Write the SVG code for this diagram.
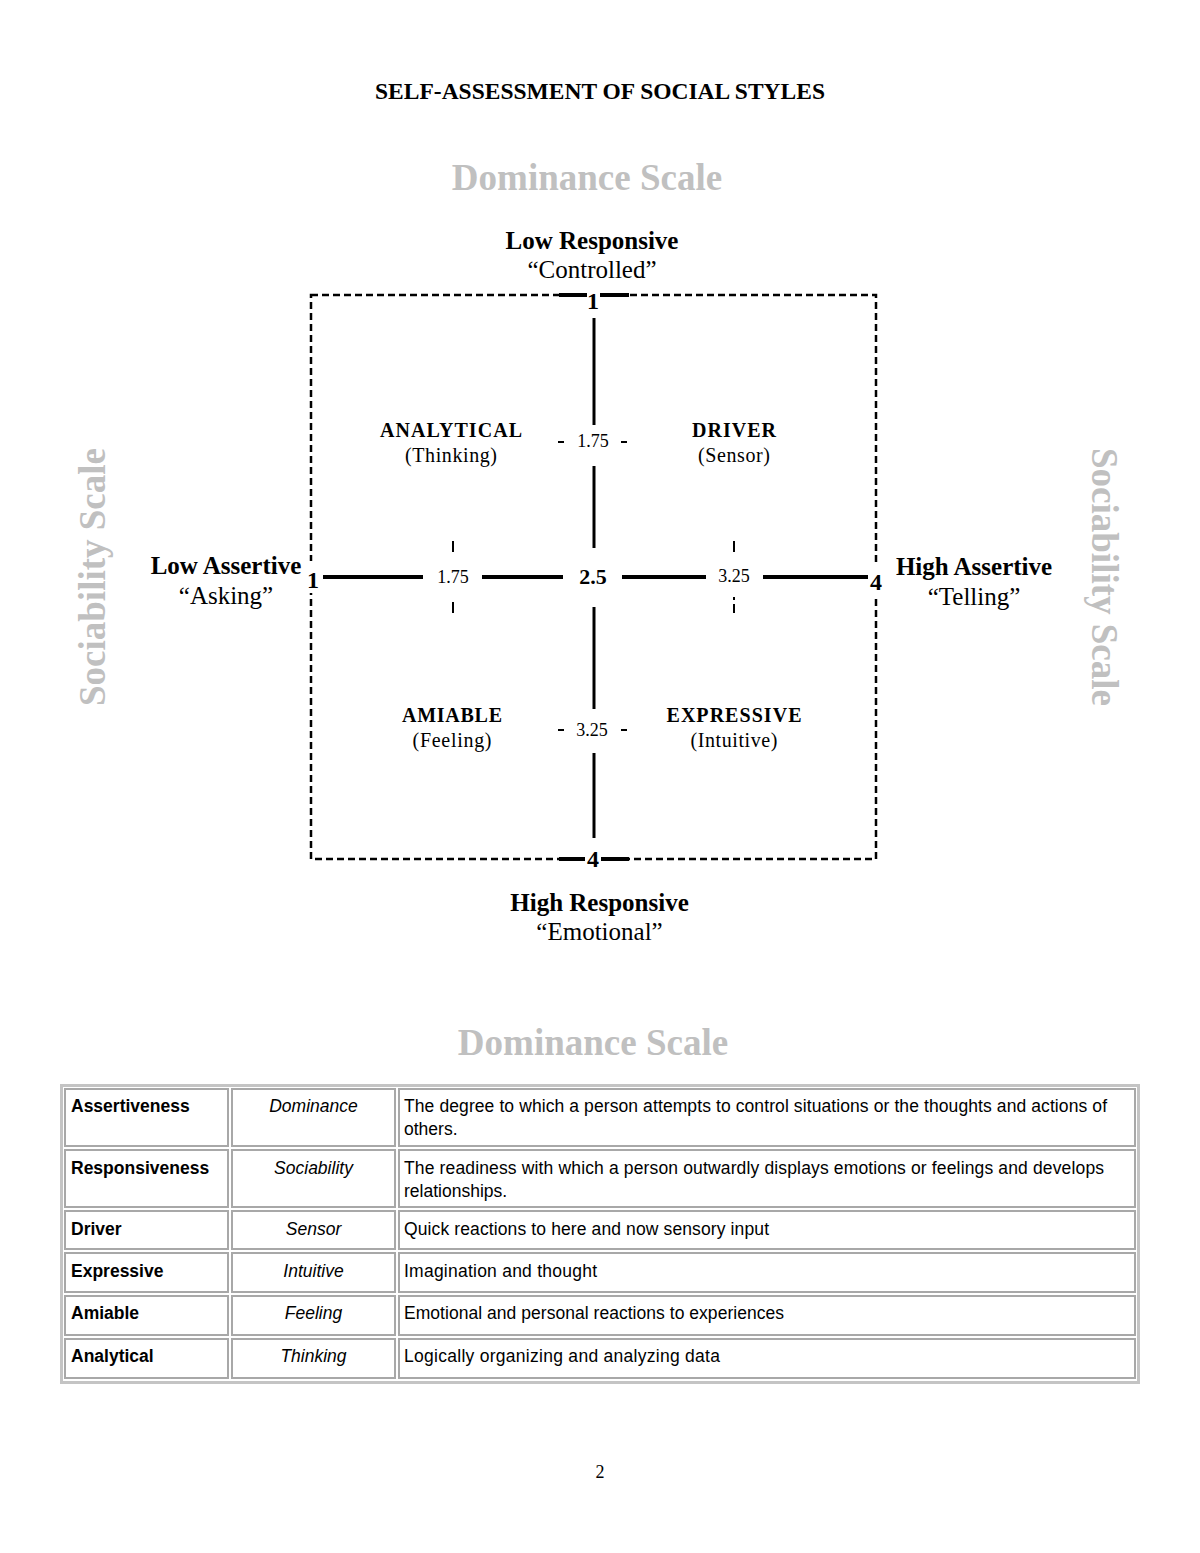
<svg xmlns="http://www.w3.org/2000/svg" width="1200" height="1553" viewBox="0 0 1200 1553">
<style>
.serif{font-family:"Liberation Serif","Times New Roman",serif;fill:#000}
.b{font-weight:bold}
.scale{font-family:"Liberation Serif","Times New Roman",serif;font-weight:bold;font-size:37px;fill:#c0c0c0}
.lab{font-size:25px}
.quad{font-size:20px}
.num{font-size:18px}
.end{font-size:24px;font-weight:bold}
.bg{fill:#fff;stroke:none}
.axis{stroke:#000;stroke-width:4;fill:none}
.vaxis{stroke:#000;stroke-width:3;fill:none}
.tick{stroke:#000;stroke-width:2;fill:none}
.box{stroke:#000;stroke-width:2.5;fill:none;stroke-dasharray:7 4}
.tbl{font-family:"Liberation Sans",Arial,sans-serif;font-size:17.5px;fill:#000}
.cell{fill:#fff;stroke:#a8a8a8;stroke-width:2}
</style>
<rect width="1200" height="1553" fill="#fff"/>

<g id="title"><text class="serif b" x="600" y="99" font-size="23.5" text-anchor="middle">SELF-ASSESSMENT OF SOCIAL STYLES</text></g>
<g id="dominance-top"><text class="scale" x="587" y="190" text-anchor="middle">Dominance Scale</text></g>
<g id="sociability-left"><text class="scale" transform="translate(105,577) rotate(-90)" text-anchor="middle">Sociability Scale</text></g>
<g id="sociability-right"><text class="scale" transform="translate(1092,577) rotate(90)" text-anchor="middle">Sociability Scale</text></g>

<g id="low-responsive">
<text class="serif b lab" x="592" y="249" text-anchor="middle">Low Responsive</text>
<text class="serif lab" x="592" y="278" text-anchor="middle">“Controlled”</text>
</g>
<g id="high-responsive">
<text class="serif b lab" x="599.5" y="911" text-anchor="middle">High Responsive</text>
<text class="serif lab" x="599.5" y="940" text-anchor="middle">“Emotional”</text>
</g>
<g id="low-assertive">
<text class="serif b lab" x="226" y="574" text-anchor="middle">Low Assertive</text>
<text class="serif lab" x="226" y="604" text-anchor="middle">“Asking”</text>
</g>
<g id="high-assertive">
<text class="serif b lab" x="974" y="575" text-anchor="middle">High Assertive</text>
<text class="serif lab" x="974" y="605" text-anchor="middle">“Telling”</text>
</g>

<g id="frame"><rect class="box" x="311" y="295" width="565" height="564"/></g>

<g id="connectors">
<line class="axis" x1="559" y1="295" x2="587" y2="295"/>
<line class="axis" x1="600" y1="295" x2="629" y2="295"/>
<line class="axis" x1="559" y1="859" x2="585" y2="859"/>
<line class="axis" x1="601" y1="859" x2="629" y2="859"/>
<line class="vaxis" x1="594" y1="318" x2="594" y2="425"/>
<line class="vaxis" x1="594" y1="466" x2="594" y2="548"/>
<line class="vaxis" x1="594" y1="607" x2="594" y2="709"/>
<line class="vaxis" x1="594" y1="753" x2="594" y2="838"/>
<line class="axis" x1="323" y1="577" x2="423" y2="577"/>
<line class="axis" x1="482" y1="577" x2="563" y2="577"/>
<line class="axis" x1="622" y1="577" x2="706" y2="577"/>
<line class="axis" x1="763" y1="577" x2="868" y2="577"/>
<line class="tick" x1="453" y1="541" x2="453" y2="552"/>
<line class="tick" x1="453" y1="602" x2="453" y2="613"/>
<line class="tick" x1="734" y1="541" x2="734" y2="552"/>
<line class="tick" x1="734" y1="597" x2="734" y2="600"/>
<line class="tick" x1="734" y1="604" x2="734" y2="613"/>
<line class="tick" x1="558" y1="442" x2="564" y2="442" stroke-width="3"/>
<line class="tick" x1="621" y1="442" x2="627" y2="442" stroke-width="3"/>
<line class="tick" x1="558" y1="730" x2="564" y2="730" stroke-width="3.5"/>
<line class="tick" x1="621" y1="730" x2="627" y2="730" stroke-width="3.5"/>
</g>

<g id="scale-numbers">
<rect class="bg" x="587" y="293" width="13" height="16"/>
<rect class="bg" x="585" y="851" width="16" height="16"/>
<rect class="bg" x="307" y="561" width="13" height="32"/>
<rect class="bg" x="869" y="563" width="15" height="32"/>
<text class="serif end" x="593" y="309" text-anchor="middle">1</text>
<text class="serif end" x="593" y="867" text-anchor="middle">4</text>
<text class="serif end" x="313" y="588" text-anchor="middle">1</text>
<text class="serif end" x="876" y="590" text-anchor="middle">4</text>
<text class="serif num" x="453" y="583" text-anchor="middle">1.75</text>
<text class="serif b" x="593" y="584" font-size="22" text-anchor="middle">2.5</text>
<text class="serif num" x="734" y="582" text-anchor="middle">3.25</text>
<text class="serif num" x="593" y="447" text-anchor="middle">1.75</text>
<text class="serif num" x="592" y="736" text-anchor="middle">3.25</text>
</g>

<g id="analytical">
<text class="serif b quad" x="451" y="437" text-anchor="middle" textLength="142" lengthAdjust="spacing">ANALYTICAL</text>
<text class="serif quad" x="451" y="462" text-anchor="middle" textLength="92" lengthAdjust="spacing">(Thinking)</text>
</g>
<g id="driver">
<text class="serif b quad" x="734" y="437" text-anchor="middle" textLength="84" lengthAdjust="spacing">DRIVER</text>
<text class="serif quad" x="734" y="462" text-anchor="middle" textLength="72" lengthAdjust="spacing">(Sensor)</text>
</g>
<g id="amiable">
<text class="serif b quad" x="452" y="722" text-anchor="middle" textLength="100" lengthAdjust="spacing">AMIABLE</text>
<text class="serif quad" x="452" y="747" text-anchor="middle" textLength="79" lengthAdjust="spacing">(Feeling)</text>
</g>
<g id="expressive">
<text class="serif b quad" x="734" y="722" text-anchor="middle" textLength="135" lengthAdjust="spacing">EXPRESSIVE</text>
<text class="serif quad" x="734" y="747" text-anchor="middle" textLength="87" lengthAdjust="spacing">(Intuitive)</text>
</g>

<g id="dominance-bottom"><text class="scale" x="593" y="1055" text-anchor="middle">Dominance Scale</text></g>

<g id="table">
<rect x="61.5" y="1085.5" width="1077" height="297" fill="#fff" stroke="#c4c4c4" stroke-width="3"/>
<rect class="cell" x="65" y="1089" width="163" height="57"/>
<rect class="cell" x="232" y="1089" width="163" height="57"/>
<rect class="cell" x="399" y="1089" width="736" height="57"/>
<rect class="cell" x="65" y="1150" width="163" height="57"/>
<rect class="cell" x="232" y="1150" width="163" height="57"/>
<rect class="cell" x="399" y="1150" width="736" height="57"/>
<rect class="cell" x="65" y="1211" width="163" height="38"/>
<rect class="cell" x="232" y="1211" width="163" height="38"/>
<rect class="cell" x="399" y="1211" width="736" height="38"/>
<rect class="cell" x="65" y="1253" width="163" height="39"/>
<rect class="cell" x="232" y="1253" width="163" height="39"/>
<rect class="cell" x="399" y="1253" width="736" height="39"/>
<rect class="cell" x="65" y="1296" width="163" height="39"/>
<rect class="cell" x="232" y="1296" width="163" height="39"/>
<rect class="cell" x="399" y="1296" width="736" height="39"/>
<rect class="cell" x="65" y="1339" width="163" height="39"/>
<rect class="cell" x="232" y="1339" width="163" height="39"/>
<rect class="cell" x="399" y="1339" width="736" height="39"/>

<text class="tbl" x="71" y="1112" font-weight="bold">Assertiveness</text>
<text class="tbl" x="313.5" y="1112" font-style="italic" text-anchor="middle">Dominance</text>
<text class="tbl" x="404" y="1112" textLength="703" lengthAdjust="spacing">The degree to which a person attempts to control situations or the thoughts and actions of</text>
<text class="tbl" x="404" y="1135">others.</text>

<text class="tbl" x="71" y="1174" font-weight="bold">Responsiveness</text>
<text class="tbl" x="313.5" y="1174" font-style="italic" text-anchor="middle">Sociability</text>
<text class="tbl" x="404" y="1174" textLength="700" lengthAdjust="spacing">The readiness with which a person outwardly displays emotions or feelings and develops</text>
<text class="tbl" x="404" y="1197">relationships.</text>

<text class="tbl" x="71" y="1235" font-weight="bold">Driver</text>
<text class="tbl" x="313.5" y="1235" font-style="italic" text-anchor="middle">Sensor</text>
<text class="tbl" x="404" y="1235" textLength="365" lengthAdjust="spacing">Quick reactions to here and now sensory input</text>

<text class="tbl" x="71" y="1277" font-weight="bold">Expressive</text>
<text class="tbl" x="313.5" y="1277" font-style="italic" text-anchor="middle">Intuitive</text>
<text class="tbl" x="404" y="1277" textLength="193" lengthAdjust="spacing">Imagination and thought</text>

<text class="tbl" x="71" y="1319" font-weight="bold">Amiable</text>
<text class="tbl" x="313.5" y="1319" font-style="italic" text-anchor="middle">Feeling</text>
<text class="tbl" x="404" y="1319" textLength="380" lengthAdjust="spacing">Emotional and personal reactions to experiences</text>

<text class="tbl" x="71" y="1362" font-weight="bold">Analytical</text>
<text class="tbl" x="313.5" y="1362" font-style="italic" text-anchor="middle">Thinking</text>
<text class="tbl" x="404" y="1362" textLength="316" lengthAdjust="spacing">Logically organizing and analyzing data</text>
</g>

<g id="page-number"><text class="serif" x="600" y="1478" font-size="18" text-anchor="middle">2</text></g>
</svg>
